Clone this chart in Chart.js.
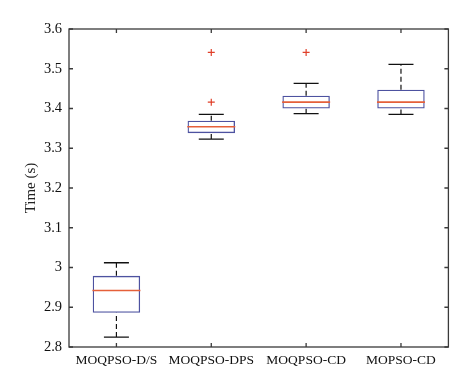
<!DOCTYPE html>
<html>
<head>
<meta charset="utf-8">
<script src="https://cdn.jsdelivr.net/npm/chart.js@4/dist/chart.umd.min.js"></script>
<style>
html,body{margin:0;padding:0;background:#fff;}
#wrap{width:474px;height:386px;}
</style>
</head>
<body>
<div id="wrap"><canvas id="c" width="474" height="386"></canvas></div>
<script>
const categories = ['MOQPSO-D/S', 'MOQPSO-DPS', 'MOQPSO-CD', 'MOPSO-CD'];
const lowerWhisker = [2.825, 3.323, 3.387, 3.385];
const q1Values     = [2.886, 3.338, 3.400, 3.400];
const medianValues = [2.942, 3.354, 3.416, 3.416];
const q3Values     = [2.979, 3.369, 3.432, 3.447];
const upperWhisker = [3.012, 3.385, 3.463, 3.511];
const outlierCategories = ['MOQPSO-DPS', 'MOQPSO-DPS', 'MOQPSO-CD'];
const outlierValues     = [3.541, 3.416, 3.541];
const yTickMin = 2.8, yTickMax = 3.6, yTickStep = 0.1;

const serif = "'Liberation Serif', 'DejaVu Serif', serif";
const boxColor = '#4d52a0';
const medColor = '#e5603a';
const axisColor = '#3a3a3a';

function segs(fromArr, toArr) {
  const out = [];
  categories.forEach((c, i) => {
    out.push({x: c, y: fromArr[i]});
    out.push({x: c, y: toArr[i]});
    out.push({x: c, y: null});
  });
  return out;
}
function pts(arr) { return categories.map((c, i) => ({x: c, y: arr[i]})); }

const framePlugin = {
  id: 'frame',
  afterDatasetsDraw(chart) {
    const {ctx, chartArea: a, scales} = chart;
    ctx.save();
    ctx.strokeStyle = axisColor;
    ctx.lineWidth = 1.3;
    ctx.strokeRect(a.left, a.top, a.right - a.left, a.bottom - a.top);
    ctx.beginPath();
    const tl = 4;
    scales.y.ticks.forEach(t => {
      const y = scales.y.getPixelForValue(t.value);
      ctx.moveTo(a.left, y); ctx.lineTo(a.left + tl, y);
      ctx.moveTo(a.right, y); ctx.lineTo(a.right - tl, y);
    });
    categories.forEach((c, i) => {
      const x = scales.x.getPixelForValue(i);
      ctx.moveTo(x, a.bottom); ctx.lineTo(x, a.bottom - tl);
      ctx.moveTo(x, a.top); ctx.lineTo(x, a.top + tl);
    });
    ctx.stroke();
    ctx.restore();
  }
};

new Chart(document.getElementById('c'), {
  data: {
    labels: categories,
    datasets: [
      {
        type: 'line', label: 'upper', data: segs(q3Values, upperWhisker),
        borderColor: '#111', borderWidth: 1.2, borderDash: [5, 3], pointRadius: 0, spanGaps: false, order: 5
      },
      {
        type: 'line', label: 'lower', data: segs(lowerWhisker, q1Values),
        borderColor: '#111', borderWidth: 1.2, borderDash: [5, 3], pointRadius: 0, spanGaps: false, order: 5
      },
      {
        type: 'bar', label: 'box', data: q1Values.map((v, i) => [v, q3Values[i]]),
        backgroundColor: 'rgba(255,255,255,0)', borderColor: boxColor, borderWidth: 1.3,
        borderSkipped: false, categoryPercentage: 1, barPercentage: 0.5, order: 4
      },
      {
        type: 'line', label: 'median', data: pts(medianValues), showLine: false,
        pointStyle: 'line', pointRadius: 24, pointBorderColor: medColor, pointBorderWidth: 1.6, order: 1
      },
      {
        type: 'line', label: 'capHi', data: pts(upperWhisker), showLine: false,
        pointStyle: 'line', pointRadius: 12.5, pointBorderColor: '#111', pointBorderWidth: 1.3, order: 2
      },
      {
        type: 'line', label: 'capLo', data: pts(lowerWhisker), showLine: false,
        pointStyle: 'line', pointRadius: 12.5, pointBorderColor: '#111', pointBorderWidth: 1.3, order: 2
      },
      {
        type: 'line', label: 'outliers',
        data: outlierCategories.map((c, i) => ({x: c, y: outlierValues[i]})), showLine: false,
        pointStyle: 'cross', pointRadius: 3.5, pointBorderColor: '#e0402a', pointBorderWidth: 1.2, order: 0
      }
    ]
  },
  options: {
    responsive: false,
    animation: false,
    events: [],
    layout: {padding: {top: 29, right: 23, left: 0, bottom: 0}},
    plugins: {legend: {display: false}, tooltip: {enabled: false}},
    scales: {
      x: {
        type: 'category', offset: true,
        grid: {display: false, drawTicks: false},
        border: {display: false},
        ticks: {color: '#111', font: {family: serif, size: 13.5}, padding: 5, maxRotation: 0, autoSkip: false},
        afterFit(s) { s.height = 39; }
      },
      y: {
        min: yTickMin, max: yTickMax,
        grid: {display: false, drawTicks: false},
        border: {display: false},
        ticks: {
          stepSize: yTickStep, color: '#111', font: {family: serif, size: 14.5}, padding: 7,
          callback: v => String(+(+v).toFixed(1))
        },
        title: {display: true, text: 'Time (s)', color: '#222', font: {family: serif, size: 15}, padding: {top: 22, bottom: 0}},
        afterFit(s) { s.width = 69; }
      }
    }
  },
  plugins: [framePlugin]
});
</script>
</body>
</html>
